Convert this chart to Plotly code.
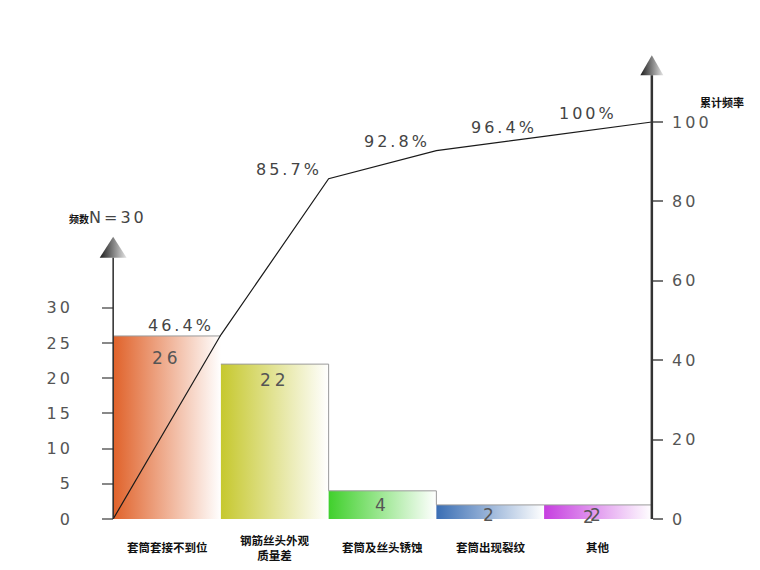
import plotly.graph_objects as go

# data
categories = ["套筒套接不到位", "钢筋丝头外观<br>质量差", "套筒及丝头锈蚀", "套筒出现裂纹", "其他"]
counts = [26, 22, 4, 2, 2]
cum_pct = [46.4, 85.7, 92.8, 96.4, 100]
left_ticks = [0, 5, 10, 15, 20, 25, 30]
right_ticks = [0, 20, 40, 60, 80, 100]
bar_colors = ["#e0622a", "#c6c82e", "#40d02c", "#3a6eb4", "#c63ee0"]

NUM_FONT = "DejaVu Sans"
CJK_FONT = "Noto Sans CJK SC"

# plot geometry (pixels)
PX_X = 107.8      # px per category
PX_Y = 7.04       # px per count on the left axis
PX_Y2 = 3.97      # px per percent on the right axis
PLOT_H = 469
Y_MAX = PLOT_H / PX_Y
Y2_MAX = PLOT_H / PX_Y2
LEFT_TOP = 37.1   # where the left axis line stops (count units)
RIGHT_TOP = 111.8 # where the right axis line stops (percent units)


def wide(s, sp=3):
    # the original digits are drawn in a wide face; spread them out a little
    return f"<span style='letter-spacing:{sp}px'>{s}</span>"


fig = go.Figure()

# bars: filled polygons so each can carry a horizontal gradient
for i, (v, c) in enumerate(zip(counts, bar_colors)):
    fig.add_trace(go.Scatter(
        x=[i - 0.5, i + 0.5, i + 0.5, i - 0.5, i - 0.5],
        y=[0, 0, v, v, 0],
        mode="lines", line=dict(width=0), fill="toself",
        fillgradient=dict(type="horizontal", colorscale=[[0, c], [1, "#ffffff"]]),
        hoverinfo="skip",
    ))

# thin gray outline on the bar tops and the step down after bar 2
ox, oy = [], []
for i, v in enumerate(counts):
    ox += [i - 0.5, i + 0.5]
    oy += [v, v]
    if 1 <= i < len(counts) - 1:
        ox += [i + 0.5]
        oy += [counts[i + 1]]
    ox.append(None)
    oy.append(None)
fig.add_trace(go.Scatter(x=ox, y=oy, mode="lines",
                         line=dict(color="#9a9a9a", width=1), hoverinfo="skip"))

# cumulative percentage line on the right axis
fig.add_trace(go.Scatter(
    x=[-0.5] + [i + 0.5 for i in range(len(cum_pct))],
    y=[0] + cum_pct,
    yaxis="y2", mode="lines", line=dict(color="#1a1a1a", width=1.2),
    hoverinfo="skip",
))


# arrow heads on top of both axes (gradient filled triangles)
def add_arrow(xc, ybase, yaxis, half_w_px, h_px, px_y):
    hw = half_w_px / PX_X
    h = h_px / px_y
    fig.add_trace(go.Scatter(
        x=[xc - hw, xc + hw, xc, xc - hw], y=[ybase, ybase, ybase + h, ybase],
        yaxis=yaxis, mode="lines", line=dict(width=0), fill="toself",
        fillgradient=dict(type="horizontal", colorscale=[[0, "#1c1c1c"], [1, "#e4e4e4"]]),
        hoverinfo="skip",
    ))


add_arrow(-0.5, LEFT_TOP, "y", 13.5, 21, PX_Y)
add_arrow(4.5, RIGHT_TOP, "y2", 11.5, 20, PX_Y2)

# count labels inside bars
label_drop = [-22, -16, -14, -10, -10]
for i, v in enumerate(counts):
    fig.add_annotation(x=i, y=v, xref="x", yref="y", text=wide(v, 4), showarrow=False,
                       yanchor="middle", yshift=label_drop[i],
                       font=dict(family=NUM_FONT, size=17, color="#555555"))
# the doubled "2" on the last bar
fig.add_annotation(x=len(counts) - 1, y=counts[-1], xref="x", yref="y", text="2",
                   showarrow=False, yanchor="middle", yshift=-12, xshift=-9,
                   font=dict(family=NUM_FONT, size=17, color="#555555"))

# percentage labels
for i, p in enumerate(cum_pct):
    fig.add_annotation(x=i, y=p, xref="x", yref="y2", text=wide(f"{p:g}%"), showarrow=False,
                       yanchor="middle", yshift=9, xshift=14 if i < len(cum_pct) - 1 else -10,
                       font=dict(family=NUM_FONT, size=16, color="#444444"))

# category labels
for i, cat in enumerate(categories):
    fig.add_annotation(x=i, y=0, xref="x", yref="paper", text=f"<b>{cat}</b>",
                       showarrow=False, yanchor="middle", yshift=-28,
                       font=dict(family=CJK_FONT, size=11.5, color="#111111"))

# axis titles
fig.add_annotation(x=-0.0525, y=0.642, xref="paper", yref="paper", xanchor="left",
                   text="<b><span style='font-size:10px;font-family:Noto Sans CJK SC;fill:#111'>频数</span></b>"
                        + wide("N=30"),
                   showarrow=False, font=dict(family=NUM_FONT, size=16, color="#444444"))
fig.add_annotation(x=1.0525, y=0.91, xref="paper", yref="paper", xanchor="left",
                   text="<b>累计频率</b>", showarrow=False,
                   font=dict(family=CJK_FONT, size=11, color="#111111"))

shapes = [
    dict(type="line", xref="x", yref="y", x0=-0.5, x1=-0.5, y0=0, y1=LEFT_TOP,
         line=dict(color="#2a2a2a", width=1.5)),
    dict(type="line", xref="x", yref="y2", x0=4.5, x1=4.5, y0=0, y1=RIGHT_TOP,
         line=dict(color="#333333", width=2.5)),
]

pad = 0.15  # extra x room so the arrow heads are not clipped
fig.update_layout(
    width=760, height=570,
    margin=dict(l=89, r=100, t=42, b=59),
    paper_bgcolor="white", plot_bgcolor="white",
    showlegend=False,
    shapes=shapes,
    xaxis=dict(range=[-0.5 - pad, 4.5 + pad], visible=False),
    yaxis=dict(range=[0, Y_MAX], tickvals=left_ticks, ticktext=[wide(t) for t in left_ticks],
               ticks="outside", ticklen=11,
               tickcolor="#888888", tickwidth=2, showgrid=False, zeroline=False,
               showline=False, ticklabelstandoff=26, automargin=False,
               anchor="free", position=pad / (5 + 2 * pad),
               tickfont=dict(family=NUM_FONT, size=16, color="#555555")),
    yaxis2=dict(range=[0, Y2_MAX], overlaying="y", side="right", tickvals=right_ticks,
                ticktext=[wide(t) for t in right_ticks],
                ticks="outside", ticklen=10, tickcolor="#777777", tickwidth=2,
                showgrid=False, zeroline=False, showline=False, ticklabelstandoff=6,
                automargin=False, anchor="free", position=1 - pad / (5 + 2 * pad),
                tickfont=dict(family=NUM_FONT, size=16, color="#555555")),
)

fig.write_html("out.html")
